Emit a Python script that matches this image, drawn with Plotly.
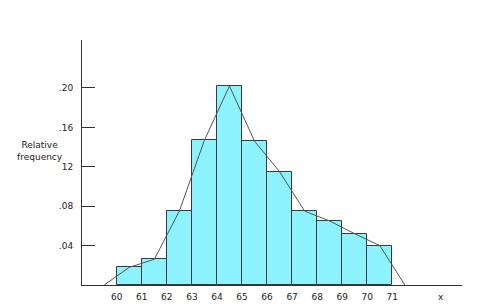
import plotly.graph_objects as go

# Data
bin_edges = [60, 61, 62, 63, 64, 65, 66, 67, 68, 69, 70, 71]
rel_freq = [0.018, 0.026, 0.075, 0.147, 0.202, 0.146, 0.115, 0.075, 0.065, 0.052, 0.040]
y_tick_vals = [0.04, 0.08, 0.12, 0.16, 0.20]
y_tick_text = [".04", ".08", "12", ".16", ".20"]
x_tick_text = [str(e) for e in bin_edges]

mids = [(a + b) / 2 for a, b in zip(bin_edges[:-1], bin_edges[1:])]
width = bin_edges[1] - bin_edges[0]
poly_x = [mids[0] - width] + mids + [mids[-1] + width]
poly_y = [0] + rel_freq + [0]

font = dict(family="DejaVu Sans", size=9, color="#222222")

fig = go.Figure()
fig.add_trace(go.Bar(
    x=mids, y=rel_freq, width=[width] * len(mids),
    marker=dict(color="#8cf2fd", line=dict(color="#3a3a3a", width=1)),
    hoverinfo="skip",
))
fig.add_trace(go.Scatter(
    x=poly_x, y=poly_y, mode="lines",
    line=dict(color="#555555", width=1), hoverinfo="skip",
))

fig.update_layout(
    width=497, height=308,
    margin=dict(l=82, r=35, t=40, b=23),
    plot_bgcolor="white", paper_bgcolor="white",
    showlegend=False, bargap=0,
    font=font,
    xaxis=dict(
        range=[58.615, 73.78], showgrid=False, zeroline=False,
        showline=True, linecolor="#333333", linewidth=1,
        tickvals=bin_edges, ticktext=x_tick_text, ticks="",
        tickfont=font, ticklabelstandoff=3, automargin=False,
    ),
    yaxis=dict(
        range=[0, 0.2487], showgrid=False, zeroline=False,
        showline=True, linecolor="#333333", linewidth=1,
        tickvals=y_tick_vals, ticktext=y_tick_text,
        ticks="inside", ticklen=13, tickcolor="#333333",
        tickfont=font, ticklabelstandoff=6, automargin=False,
    ),
    annotations=[
        dict(text="Relative<br>frequency", xref="paper", yref="paper",
             x=-0.11, y=0.547, xanchor="center", yanchor="middle",
             showarrow=False, font=font, align="center"),
        dict(text="x", xref="x", yref="paper", x=72.94, y=-0.02,
             xanchor="center", yanchor="top", showarrow=False, font=font),
    ],
)

fig.write_html("out.html")
